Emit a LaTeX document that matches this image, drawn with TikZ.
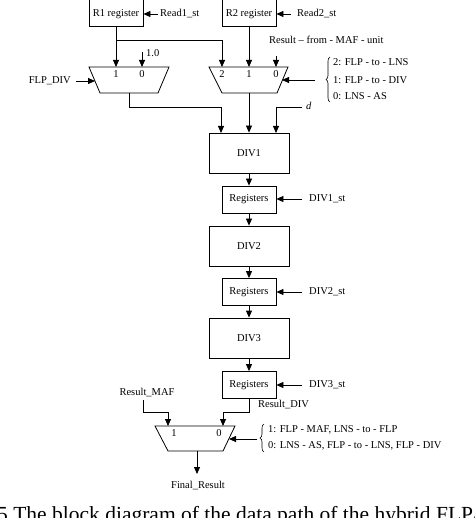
\documentclass[tikz,border=0pt]{standalone}
\usepackage{fontspec}
\setmainfont{Liberation Serif}
\usetikzlibrary{arrows.meta,decorations.pathreplacing}
\tikzset{
  wire/.style={line width=0.8pt},
  arr/.style={line width=0.8pt,-{Triangle[length=7pt,width=6pt]}},
  blk/.style={draw,line width=0.8pt,inner sep=0pt},
  lbl/.style={inner sep=0pt,font=\fontsize{10.5}{12}\selectfont},
  mux/.style={draw,line width=0.8pt},
  brc/.style={line width=0.6pt,decorate,decoration={brace,amplitude=4pt}}
}
\begin{document}
\begin{tikzpicture}[x=1pt,y=-1pt]
\useasboundingbox (0,0) rectangle (474,518);
\clip (0,0) rectangle (474,518);
\fill[white] (0,0) rectangle (474,518);
% registers R1, R2
\node[blk,minimum width=54pt,minimum height=40pt] (r1) at (116,6) {};
\node[lbl] (r1t) at (116,14) {R1 register};
\node[blk,minimum width=54pt,minimum height=40pt] (r2) at (249,6) {};
\node[lbl] (r2t) at (249,14) {R2 register};
\node[lbl,anchor=west] (read1) at (160,14) {Read1\_st};
\node[lbl,anchor=west] (read2) at (297,14) {Read2\_st};
\draw[arr] (read1.west) ++(-2,0) -- (r1.east |- read1.west);
\draw[arr] (read2.west) ++(-6,0) -- (r2.east |- read2.west);
% mux 1
\draw[mux] (89,67) coordinate (m1tl) -- (169,67) coordinate (m1tr) -- (158,93) coordinate (m1br) -- (100,93) coordinate (m1bl) -- cycle;
\coordinate (m1i1) at (116,67);
\coordinate (m1i0) at (142,67);
\coordinate (m1o) at (129,93);
\coordinate (m1s) at (95,81);
\node[lbl] (m1l1) at (116,74) {1};
\node[lbl] (m1l0) at (142,74) {0};
\node[lbl,anchor=west] (one) at (146,53) {1.0};
\coordinate (onein) at (142,52);
\draw[arr] (onein) -- (m1i0);
\node[lbl,anchor=east] (flpdiv) at (71,81) {FLP\_DIV};
\draw[arr] (76,81) coordinate (fs) -- (m1s);
% mux 2
\draw[mux] (209,67) coordinate (m2tl) -- (288,67) coordinate (m2tr) -- (277,93) coordinate (m2br) -- (222,93) coordinate (m2bl) -- cycle;
\coordinate (m2i2) at (222,67);
\coordinate (m2i1) at (249,67);
\coordinate (m2i0) at (276,67);
\coordinate (m2o) at (249,93);
\coordinate (m2s) at (282,80);
\node[lbl] (m2l2) at (222,74) {2};
\node[lbl] (m2l1) at (249,74) {1};
\node[lbl] (m2l0) at (276,74) {0};
\node[lbl,anchor=west] (rfm) at (269,40) {Result -- from - MAF - unit};
\coordinate (rfmin) at (276,56);
\draw[arr] (rfmin) -- (m2i0);
\coordinate (m2sel) at (315,80);
\draw[arr] (m2sel) -- (m2s);
\draw[brc] (330,102) -- (330,57);
\node[lbl,anchor=west] (s2a) at (333,62) {2: FLP - to - LNS};
\node[lbl,anchor=west] (s2b) at (333,80) {1: FLP - to - DIV};
\node[lbl,anchor=west] (s2c) at (333,96) {0: LNS - AS};
% R1/R2 to muxes
\draw[arr] (r1.south) -- (m1i1);
\draw[arr] (116,40) coordinate (br) -- (222,40) -- (m2i2);
\draw[arr] (r2.south) -- (m2i1);
% DIV chain
\node[blk,minimum width=80pt,minimum height=40pt,lbl] (div1) at (249,153) {DIV1};
\node[blk,minimum width=54pt,minimum height=27pt,lbl] (reg1) at (249,199.5) {Registers};
\node[blk,minimum width=80pt,minimum height=40pt,lbl] (div2) at (249,246) {DIV2};
\node[blk,minimum width=54pt,minimum height=27pt,lbl] (reg2) at (249,292) {Registers};
\node[blk,minimum width=80pt,minimum height=40pt,lbl] (div3) at (249,338) {DIV3};
\node[blk,minimum width=54pt,minimum height=27pt,lbl] (reg3) at (249,385) {Registers};
\draw[arr] (m1o) -- (129,107) -- (221,107) -- (221,133);
\draw[arr] (m2o) -- (div1.north);
\node[lbl,anchor=west] (d) at (306,106) {\itshape d};
\draw[arr] (302,107) coordinate (dpt) -- (276,107) -- (276,133);
\draw[arr] (div1) -- (reg1);
\draw[arr] (reg1) -- (div2);
\draw[arr] (div2) -- (reg2);
\draw[arr] (reg2) -- (div3);
\draw[arr] (div3) -- (reg3);
\node[lbl,anchor=west] (d1st) at (309,199) {DIV1\_st};
\node[lbl,anchor=west] (d2st) at (309,292) {DIV2\_st};
\node[lbl,anchor=west] (d3st) at (309,385) {DIV3\_st};
\draw[arr] (302,199) -- (reg1.east |- 0,199);
\draw[arr] (302,292) -- (reg2.east |- 0,292);
\draw[arr] (302,385) -- (reg3.east |- 0,385);
% mux 3
\draw[mux] (155,426) coordinate (m3tl) -- (235,426) coordinate (m3tr) -- (223,451) coordinate (m3br) -- (168,451) coordinate (m3bl) -- cycle;
\coordinate (m3i1) at (168,426);
\coordinate (m3i0) at (223,426);
\coordinate (m3o) at (197,451);
\coordinate (m3s) at (229,439);
\node[lbl] (m3l1) at (174,433) {1};
\node[lbl] (m3l0) at (219,433) {0};
\node[lbl] (rmaf) at (147,393) {Result\_MAF};
\node[lbl,anchor=west] (rdiv) at (258,405) {Result\_DIV};
\draw[arr] (143,400) -- (143,412) -- (168,412) -- (m3i1);
\draw[arr] (reg3.south) -- (249,412) -- (223,412) -- (m3i0);
\draw[arr] (257,439) coordinate (m3sel) -- (m3s);
\draw[brc] (264,452) -- (264,424);
\node[lbl,anchor=west] (s3a) at (268,430) {1: FLP - MAF, LNS - to - FLP};
\node[lbl,anchor=west] (s3b) at (268,446) {0: LNS - AS, FLP - to - LNS, FLP - DIV};
\node[lbl] (fin) at (198,486) {Final\_Result};
\draw[arr] (m3o) -- (197,474);
% caption (cut off by the frame, as in the reference)
\node[inner sep=0pt,anchor=base west,font=\fontsize{21.5}{24}\selectfont] (cap) at (-3,521.5) {5 The block diagram of the data path of the hybrid FLP/LNS};
\end{tikzpicture}
\end{document}
